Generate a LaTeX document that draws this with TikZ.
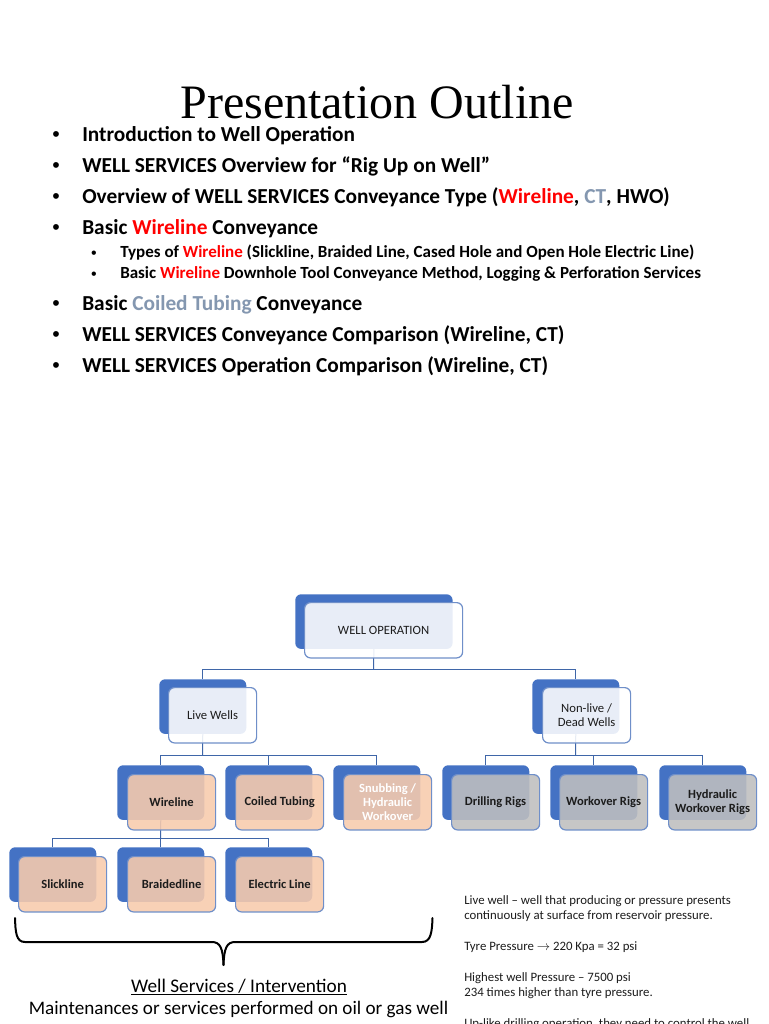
\documentclass[tikz,border=0pt]{standalone}
\usepackage{fontspec}
\setmainfont{Carlito}
\newfontfamily\titlefont{Liberation Serif}
\newfontfamily\dotfont{Liberation Sans}
\definecolor{bluefill}{HTML}{4472C4}
\definecolor{edgeblue}{HTML}{6F8FC9}
\definecolor{linkblue}{HTML}{3F66A8}
\definecolor{peach}{HTML}{F8CBAD}
\definecolor{graybox}{HTML}{BFBFBF}
\definecolor{ctblue}{HTML}{8497B0}
\definecolor{inktext}{HTML}{1C1C1C}
\tikzset{
  backbox/.style={fill=bluefill,rounded corners=4.5pt,minimum width=65.25pt,minimum height=41pt,inner sep=0pt,anchor=north west},
  frontbox/.style={draw=edgeblue,line width=0.9pt,rounded corners=4.5pt,fill opacity=0.88,text opacity=1,minimum width=66pt,minimum height=41.5pt,inner sep=0pt,anchor=north west,align=center,text=inktext,font=\fontsize{9.4}{10.6}\selectfont\bfseries},
  whitebox/.style={frontbox,fill=white,font=\fontsize{9.5}{10.6}\selectfont},
  peachbox/.style={frontbox,fill=peach},
  greybox/.style={frontbox,fill=graybox},
  link/.style={draw=linkblue,line width=0.75pt},
  itemone/.style={anchor=base west,inner sep=0pt,font=\fontsize{16}{18}\selectfont\bfseries,text=black},
  itemtwo/.style={anchor=base west,inner sep=0pt,font=\fontsize{12.75}{14}\selectfont\bfseries,text=black},
  dotone/.style={anchor=base,inner sep=0pt,font=\dotfont\fontsize{16}{18}\selectfont},
  dottwo/.style={anchor=base,inner sep=0pt,font=\dotfont\fontsize{12}{14}\selectfont},
  notetext/.style={anchor=base west,inner sep=0pt,font=\fontsize{9.6}{11}\selectfont,text=inktext},
  brace/.style={draw=black,line width=1.5pt,line cap=round,line join=round}
}
\newcommand{\wl}{\textcolor{red}{Wireline}}
\begin{document}
\begin{tikzpicture}[x=0.75pt,y=-0.75pt]
\useasboundingbox (0,0) rectangle (768,1024);
\clip (0,0) rectangle (768,1024);
\fill[white] (0,0) rectangle (768,1024);
% title
\node[anchor=base,inner sep=0pt,font=\titlefont\fontsize{36}{40}\selectfont] (title) at (377,118) {Presentation Outline};
% bullets
\node[dotone] (d1) at (56,141) {•}; \node[itemone] (i1) at (82,141) {Introduction to Well Operation};
\node[dotone] (d2) at (56,172) {•}; \node[itemone] (i2) at (82,172) {WELL SERVICES Overview for “Rig Up on Well”};
\node[dotone] (d3) at (56,203) {•}; \node[itemone] (i3) at (82,203) {Overview of WELL SERVICES Conveyance Type (\wl, \textcolor{ctblue}{CT}, HWO)};
\node[dotone] (d4) at (56,234) {•}; \node[itemone] (i4) at (82,234) {Basic \wl{} Conveyance};
\node[dottwo] (d5) at (94,258) {•}; \node[itemtwo] (i5) at (120,257.5) {Types of \wl{} (Slickline, Braided Line, Cased Hole and Open Hole Electric Line)};
\node[dottwo] (d6) at (94,279) {•}; \node[itemtwo] (i6) at (120,278.5) {Basic \wl{} Downhole Tool Conveyance Method, Logging \& Perforation Services};
\node[dotone] (d7) at (56,310) {•}; \node[itemone] (i7) at (82,310) {Basic \textcolor{ctblue}{Coiled Tubing} Conveyance};
\node[dotone] (d8) at (56,341) {•}; \node[itemone] (i8) at (82,341) {WELL SERVICES Conveyance Comparison (Wireline, CT)};
\node[dotone] (d9) at (56,372) {•}; \node[itemone] (i9) at (82,372) {WELL SERVICES Operation Comparison (Wireline, CT)};
% back boxes
\node[backbox,minimum width=118pt] (wellb) at (295,594) {};
\node[backbox] (liveb) at (159,679) {};
\node[backbox] (nonb) at (532,679) {};
\node[backbox] (wireb) at (117,765) {};
\node[backbox] (coilb) at (225,765) {};
\node[backbox] (snubb) at (333,765) {};
\node[backbox] (drillb) at (442,765) {};
\node[backbox] (workb) at (550,765) {};
\node[backbox] (hydb) at (659,765) {};
\node[backbox] (slickb) at (9,847) {};
\node[backbox] (braidb) at (117,847) {};
\node[backbox] (elecb) at (225,847) {};
% connectors
\coordinate (busa) at (373.5,669);
\coordinate (busb) at (202.5,755);
\coordinate (busc) at (575.5,755);
\coordinate (busd) at (160.5,838);
\draw[link] (wellb.south) -- (busa);
\draw[link] (busa) -| (liveb.north);
\draw[link] (busa) -| (nonb.north);
\draw[link] (liveb.south) -- (busb);
\draw[link] (busb) -| (wireb.north);
\draw[link] (busb) -| (coilb.north);
\draw[link] (busb) -| (snubb.north);
\draw[link] (nonb.south) -- (busc);
\draw[link] (busc) -| (drillb.north);
\draw[link] (busc) -| (workb.north);
\draw[link] (busc) -| (hydb.north);
\draw[link] (wireb.south) -- (busd);
\draw[link] (busd) -| (slickb.north);
\draw[link] (busd) -| (braidb.north);
\draw[link] (busd) -| (elecb.north);
% front boxes
\node[whitebox,minimum width=118.5pt,minimum height=41.5pt] (well) at (304,602) {WELL OPERATION};
\node[whitebox] (live) at (168,687) {Live Wells};
\node[whitebox] (non) at (542,687) {Non-live /\\Dead Wells};
\node[peachbox] (wire) at (127,774) {Wireline};
\node[peachbox] (coil) at (235,774) {Coiled Tubing};
\node[peachbox,text=white] (snub) at (343,774) {Snubbing /\\Hydraulic\\Workover};
\node[greybox] (drill) at (451,774) {Drilling Rigs};
\node[greybox] (work) at (559,774) {Workover Rigs};
\node[greybox] (hyd) at (668,774) {Hydraulic\\Workover Rigs};
\node[peachbox] (slick) at (18,856) {Slickline};
\node[peachbox] (braid) at (127,856) {Braidedline};
\node[peachbox] (elec) at (235,856) {Electric Line};
% brace
\draw[brace] (15,918) .. controls (15.5,932) and (16,942) .. (25,942) -- (212,942) .. controls (220,942) and (223,948) .. (223.5,965);
\draw[brace] (432.5,918) .. controls (432,932) and (431,942) .. (422,942) -- (235,942) .. controls (227,942) and (224,948) .. (223.5,965);
% captions
\node[anchor=base,inner sep=0pt,font=\fontsize{14.45}{17}\selectfont,text=black] (cap1) at (239,992) {\underline{Well Services / Intervention}};
\node[anchor=base,inner sep=0pt,font=\fontsize{14.35}{17}\selectfont,text=black] (cap2) at (238.5,1014) {Maintenances or services performed on oil or gas well};
% notes
\node[notetext] (n1) at (464,904) {Live well – well that producing or pressure presents};
\node[notetext] (n2) at (464,919) {continuously at surface from reservoir pressure.};
\node[notetext] (n3) at (464,950) {Tyre Pressure \(\rightarrow\) 220 Kpa = 32 psi};
\node[notetext] (n4) at (464,981) {Highest well Pressure – 7500 psi};
\node[notetext] (n5) at (464,996) {234 times higher than tyre pressure.};
\node[notetext] (n6) at (464,1027) {Up-like drilling operation, they need to control the well};
\end{tikzpicture}
\end{document}
